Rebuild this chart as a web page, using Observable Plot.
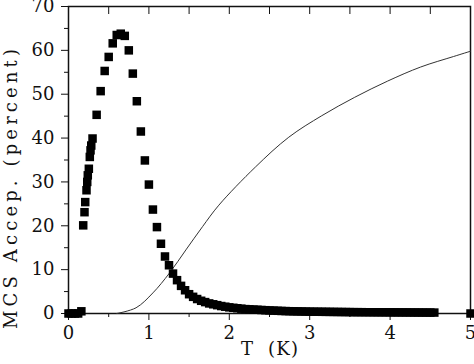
<!DOCTYPE html>
<html><head><meta charset="utf-8">
<script src="https://cdn.jsdelivr.net/npm/d3@7"></script>
<script src="https://cdn.jsdelivr.net/npm/@observablehq/plot@0.6"></script>
<style>
body{margin:0;background:#fff}
svg text{white-space:pre}
</style>
</head><body><div id="chart"></div>
<script>
// Monte Carlo acceptance (squares)
const tempK = [0, 0.04, 0.08, 0.12, 0.16,
  0.183, 0.199, 0.208, 0.224, 0.233, 0.240, 0.253, 0.265, 0.274, 0.283, 0.299,
  0.35, 0.40, 0.45, 0.50, 0.55, 0.60, 0.65, 0.70, 0.75, 0.80, 0.85, 0.90, 0.95, 1.00,
  1.05, 1.10, 1.15, 1.20, 1.25, 1.30, 1.35, 1.40, 1.45, 1.50,
  1.55, 1.60, 1.65, 1.70, 1.75, 1.80, 1.85, 1.90, 1.95, 2.00,
  2.05, 2.10, 2.15, 2.20, 2.25, 2.30, 2.35, 2.40, 2.45, 2.50,
  2.55, 2.60, 2.65, 2.70, 2.75, 2.80, 2.85, 2.90, 2.95, 3.00,
  3.05, 3.10, 3.15, 3.20, 3.25, 3.30, 3.35, 3.40, 3.45, 3.50,
  3.55, 3.60, 3.65, 3.70, 3.75, 3.80, 3.85, 3.90, 3.95, 4.00,
  4.05, 4.10, 4.15, 4.20, 4.25, 4.30, 4.35, 4.40, 4.45, 4.50, 4.55, 5.00];
const acceptPct = [0, 0, 0, 0, 0.5,
  20.1, 23.1, 25.4, 28.1, 30.0, 31.5, 33.0, 35.7, 37.2, 38.3, 39.9,
  45.3, 50.7, 55.3, 58.5, 61.6, 63.5, 63.8, 63.3, 60.0, 54.7, 48.4, 41.5, 34.9, 29.4,
  23.7, 19.7, 15.9, 13.0, 11.0, 9.1, 7.6, 6.3, 5.3, 4.4,
  3.8, 3.3, 2.9, 2.6, 2.3, 2.1, 1.9, 1.7, 1.55, 1.4,
  1.3, 1.2, 1.1, 1.0, 0.95, 0.9, 0.85, 0.8, 0.75, 0.7,
  0.66, 0.62, 0.58, 0.55, 0.52, 0.5, 0.48, 0.46, 0.44, 0.42,
  0.41, 0.4, 0.39, 0.38, 0.37, 0.36, 0.35, 0.34, 0.33, 0.32,
  0.31, 0.3, 0.3, 0.29, 0.29, 0.28, 0.28, 0.27, 0.27, 0.26,
  0.26, 0.25, 0.25, 0.24, 0.24, 0.23, 0.23, 0.22, 0.22, 0.21, 0.21, 0.0];

// thin solid curve
const curveT = [0.60, 0.84, 1.05, 1.255, 1.46, 1.667, 1.87, 2.325, 2.74, 3.15, 3.56, 3.97, 4.38, 4.79, 5.00];
const curveV = [0.0, 1.3, 4.7, 9.2, 14.5, 19.8, 24.7, 33.4, 40.2, 45.1, 49.3, 53.0, 56.2, 58.6, 59.8];

const xTicks = [0, 1, 2, 3, 4, 5];
const xMinor = [0.5, 1.5, 2.5, 3.5, 4.5];
const yTicks = [0, 10, 20, 30, 40, 50, 60, 70];
const yMinor = [5, 15, 25, 35, 45, 55, 65];
const xLabel = "T  (K)";
const yLabel = "MCS Accep. (percent)";

const points = tempK.map((t, i) => ({t, v: acceptPct[i]}));
const line = curveT.map((t, i) => ({t, v: curveV[i]}));

const chart = Plot.plot({
  width: 474, height: 364,
  marginLeft: 68, marginRight: 4, marginTop: 6, marginBottom: 51,
  x: {domain: [0, 5]},
  y: {domain: [0, 70]},
  style: {fontFamily: "DejaVu Serif", fontSize: "18px", background: "#fff", color: "#111"},
  marks: [
    Plot.axisX(xTicks, {tickSize: 7, tickPadding: 6, label: null}),
    Plot.axisX(xMinor, {tickSize: 4, text: null, label: null}),
    Plot.axisX(xTicks.concat(xMinor), {anchor: "top", tickSize: 7, dy: 7, text: null, label: null}),
    Plot.axisY(yTicks, {tickSize: 7, tickPadding: 7, label: null}),
    Plot.axisY(yMinor, {tickSize: 4, text: null, label: null}),
    Plot.frame({stroke: "#111", strokeWidth: 1.5}),
    Plot.line(line, {x: "t", y: "v", curve: "catmull-rom", stroke: "#333", strokeWidth: 1}),
    Plot.dot(points, {x: "t", y: "v", symbol: "square", r: 4.8, fill: "#000", stroke: "none"}),
    Plot.text([xLabel], {frameAnchor: "bottom", textAnchor: "middle", dx: 0, dy: 41, fontSize: 18}),
    Plot.text([yLabel], {frameAnchor: "left", textAnchor: "middle", rotate: -90, dx: -57, dy: 29, fontSize: 18})
  ]
});
// stretch the axis titles to the reference's letter spacing
d3.select(chart).selectAll("text").each(function() {
  const s = this.textContent;
  if (s === yLabel) d3.select(this).attr("textLength", 280).attr("lengthAdjust", "spacing");
  if (s === xLabel) d3.select(this).attr("textLength", 57).attr("lengthAdjust", "spacing");
});
document.getElementById("chart").appendChild(chart);
</script>
</body></html>
